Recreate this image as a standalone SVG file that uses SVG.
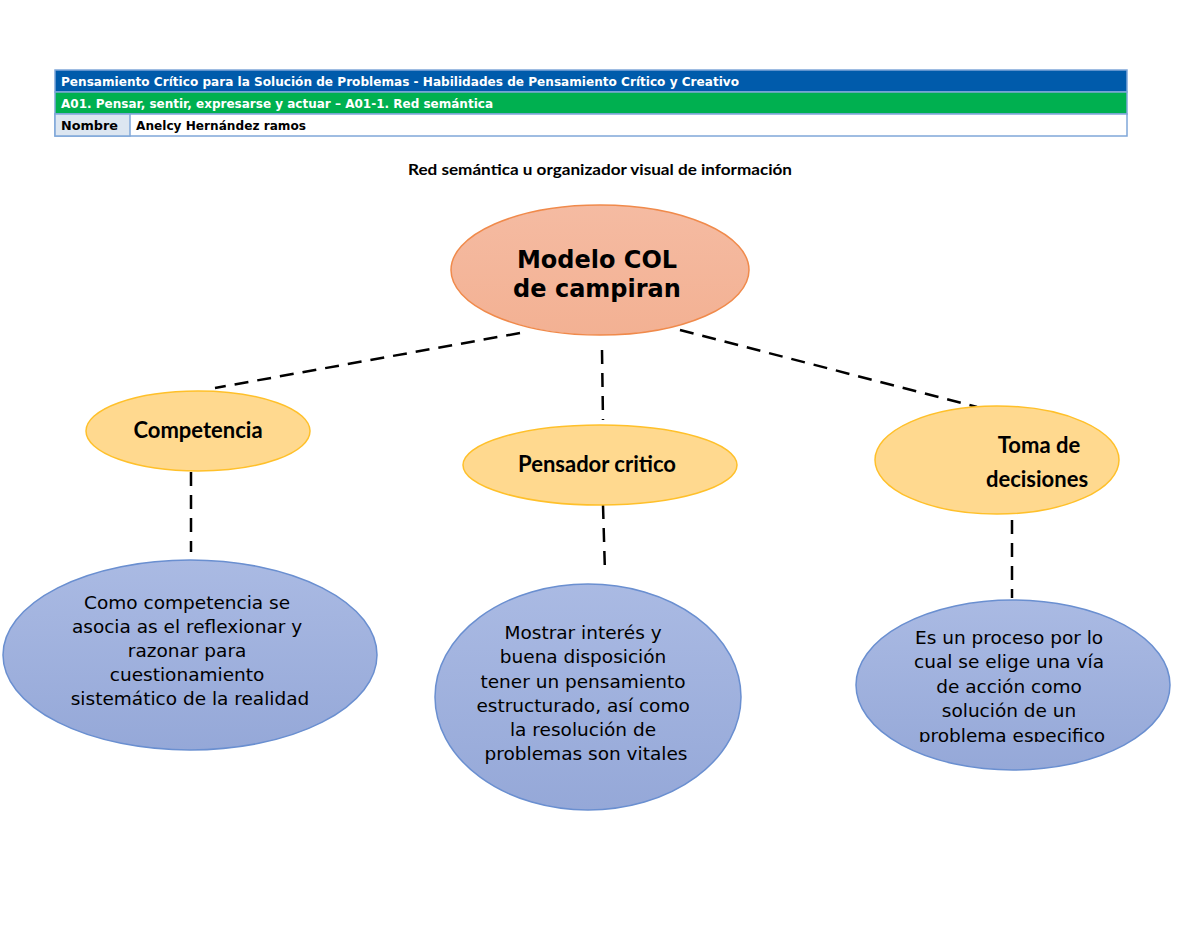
<svg xmlns="http://www.w3.org/2000/svg" width="1200" height="927" viewBox="0 0 1200 927">
<style>
.hdr{font-family:"DejaVu Sans",Verdana,sans-serif;font-size:12px;font-weight:bold}
.ttl{font-family:Lato,"Liberation Sans",sans-serif;font-size:16px;font-weight:bold;fill:#000}
.main{font-family:"DejaVu Sans",Verdana,sans-serif;font-size:24px;font-weight:bold;fill:#000}
.mid{font-family:Lato,"Open Sans","Liberation Sans",sans-serif;font-size:22px;font-weight:bold;fill:#000}
.body{font-family:"DejaVu Sans",Verdana,sans-serif;font-size:18.5px;fill:#000}
.yel{fill:#FFD98F;stroke:#FFC02A;stroke-width:1.5}
.blu{fill:url(#bg);stroke:#6A8FD0;stroke-width:1.5}
.con line{stroke:#000;stroke-width:2.5;stroke-dasharray:14 9;fill:none}
</style>
<defs>
<linearGradient id="bg" x1="0" y1="0" x2="0" y2="1">
<stop offset="0" stop-color="#AABAE3"/>
<stop offset="1" stop-color="#95A8D8"/>
</linearGradient>
<linearGradient id="og" x1="0" y1="0" x2="0" y2="1">
<stop offset="0" stop-color="#F5BBA2"/>
<stop offset="1" stop-color="#F3B193"/>
</linearGradient>
<clipPath id="cr"><rect x="850" y="600" width="330" height="142"/></clipPath>
</defs>
<rect width="1200" height="927" fill="#fff"/>
<g id="header">
<rect x="55" y="70" width="1072" height="22" fill="#005BAB" stroke="#7FA7D9" stroke-width="1.5"/>
<rect x="55" y="92" width="1072" height="22" fill="#00B050" stroke="#7FA7D9" stroke-width="1.5"/>
<rect x="55" y="114" width="1072" height="22" fill="#fff" stroke="#7FA7D9" stroke-width="1.5"/>
<rect x="55" y="114" width="75" height="22" fill="#DCE6F1" stroke="#7FA7D9" stroke-width="1.5"/>
<text class="hdr" x="61" y="86" fill="#fff" textLength="678" lengthAdjust="spacingAndGlyphs">Pensamiento Crítico para la Solución de Problemas - Habilidades de Pensamiento Crítico y Creativo</text>
<text class="hdr" x="61" y="108" fill="#fff" textLength="432" lengthAdjust="spacingAndGlyphs">A01. Pensar, sentir, expresarse y actuar – A01-1. Red semántica</text>
<text class="hdr" x="61" y="130" fill="#000" textLength="57" lengthAdjust="spacingAndGlyphs">Nombre</text>
<text class="hdr" x="136" y="130" fill="#000" textLength="170" lengthAdjust="spacingAndGlyphs">Anelcy Hernández ramos</text>
</g>
<text class="ttl" x="600" y="175" text-anchor="middle" textLength="384" lengthAdjust="spacingAndGlyphs">Red semántica u organizador visual de información</text>
<g class="con" id="connectors">
<line x1="520" y1="333" x2="215" y2="388"/>
<line x1="602" y1="350" x2="603" y2="420"/>
<line x1="680" y1="330" x2="977" y2="407"/>
<line x1="191" y1="472" x2="191" y2="552"/>
<line x1="603" y1="505" x2="605" y2="573"/>
<line x1="1012" y1="520" x2="1012" y2="598"/>
</g>
<g id="n-modelo">
<ellipse cx="600" cy="270" rx="149" ry="65" fill="url(#og)" stroke="#F08A4B" stroke-width="1.5"/>
<text class="main" x="597" y="268" text-anchor="middle">Modelo COL</text>
<text class="main" x="597" y="297" text-anchor="middle">de campiran</text>
</g>
<g id="n-competencia">
<ellipse class="yel" cx="198" cy="431" rx="112" ry="40"/>
<text class="mid" x="198" y="438" text-anchor="middle">Competencia</text>
</g>
<g id="n-pensador">
<ellipse class="yel" cx="600" cy="465" rx="137" ry="40"/>
<text class="mid" x="597" y="472" text-anchor="middle">Pensador critico</text>
</g>
<g id="n-toma">
<ellipse class="yel" cx="997" cy="460" rx="122" ry="54"/>
<text class="mid" x="1039" y="453" text-anchor="middle">Toma de</text>
<text class="mid" x="1037" y="487" text-anchor="middle">decisiones</text>
</g>
<g id="n-comp-desc">
<ellipse class="blu" cx="190" cy="655" rx="187" ry="95"/>
<text class="body" text-anchor="middle">
<tspan x="190" y="609">Como competencia se</tspan>
<tspan x="190" y="633">asocia as el reflexionar y</tspan>
<tspan x="190" y="657">razonar para</tspan>
<tspan x="190" y="681">cuestionamiento</tspan>
<tspan x="190" y="705">sistemático de la realidad</tspan>
</text>
</g>
<g id="n-pens-desc">
<ellipse class="blu" cx="588" cy="697" rx="153" ry="113"/>
<text class="body" text-anchor="middle">
<tspan x="586" y="639">Mostrar interés y</tspan>
<tspan x="586" y="663">buena disposición</tspan>
<tspan x="586" y="688">tener un pensamiento</tspan>
<tspan x="586" y="712">estructurado, así como</tspan>
<tspan x="586" y="736">la resolución de</tspan>
<tspan x="586" y="760">problemas son vitales</tspan>
</text>
</g>
<g id="n-toma-desc">
<ellipse class="blu" cx="1013" cy="685" rx="157" ry="85"/>
<text class="body" text-anchor="middle" clip-path="url(#cr)">
<tspan x="1012" y="644">Es un proceso por lo</tspan>
<tspan x="1012" y="668">cual se elige una vía</tspan>
<tspan x="1012" y="693">de acción como</tspan>
<tspan x="1012" y="717">solución de un</tspan>
<tspan x="1012" y="742">problema especifico</tspan>
</text>
</g>
</svg>
